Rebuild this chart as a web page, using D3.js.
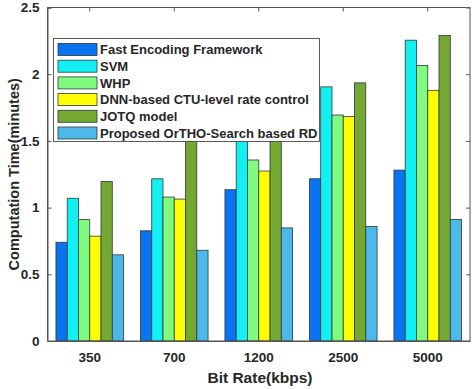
<!DOCTYPE html>
<html><head><meta charset="utf-8">
<script src="https://cdn.jsdelivr.net/npm/d3@7"></script>
<style>body{margin:0;background:#fff}svg{display:block}text{font-family:"Liberation Sans",Arial,sans-serif;font-weight:bold;fill:#262626}</style>
</head><body>
<script>
const categories = ["350","700","1200","2500","5000"];
const seriesNames = ["Fast Encoding Framework","SVM","WHP","DNN-based CTU-level rate control","JOTQ model","Proposed OrTHO-Search based RD"];
const fastEncoding = [0.74,0.826,1.134,1.216,1.281];
const svm = [1.07,1.216,1.60,1.905,2.255];
const whp = [0.91,1.079,1.357,1.694,2.065];
const dnn = [0.786,1.064,1.274,1.682,1.879];
const jotq = [1.196,1.53,1.62,1.935,2.29];
const proposed = [0.646,0.68,0.848,0.858,0.911];
const colors = ["#0a74f0","#13f0f3","#80fb80","#ffff00","#74a832","#4db9ea"];
const yTicks = [0,0.5,1,1.5,2,2.5];
const series = [fastEncoding,svm,whp,dnn,jotq,proposed];

const W=474,H=389, m={l:47.5,r:4,t:7.5,b:48};
const svg=d3.select("body").append("svg").attr("width",W).attr("height",H);
const x=d3.scaleBand().domain(categories).range([m.l,W-m.r]).paddingInner(0.2).paddingOuter(0.1);
const xs=d3.scaleBand().domain(d3.range(series.length)).range([0,x.bandwidth()]);
const y=d3.scaleLinear().domain([0,2.5]).range([H-m.b,m.t]);

const g=svg.append("g");
series.forEach((s,i)=>{
  g.selectAll(null).data(s).enter().append("rect")
   .attr("x",(d,j)=>x(categories[j])+xs(i))
   .attr("y",d=>y(d)).attr("width",xs.bandwidth()).attr("height",d=>y(0)-y(d))
   .attr("fill",colors[i]).attr("stroke","#2a3a3a").attr("stroke-width",0.8);
});
const axc="#555";
const xa=svg.append("g").attr("transform",`translate(0,${H-m.b})`).call(d3.axisBottom(x).tickSize(0).tickPadding(11));
const xt=svg.append("g").attr("transform",`translate(0,${m.t})`).call(d3.axisBottom(x).tickSize(4).tickFormat(""));
const ya=svg.append("g").attr("transform",`translate(${m.l},0)`).call(d3.axisLeft(y).tickValues(yTicks).tickSize(-4).tickPadding(8).tickFormat(d3.format("")));
const yr=svg.append("g").attr("transform",`translate(${W-m.r},0)`).call(d3.axisLeft(y).tickValues(yTicks).tickSize(4).tickFormat(""));
[xa,xt,ya,yr].forEach(a=>{a.selectAll("path,line").attr("stroke",axc);a.select(".domain").attr("stroke",axc);a.selectAll("text").style("font-size","13.5px").style("font-family","Liberation Sans, Arial").style("font-weight","bold").attr("fill","#262626");});
xt.select(".domain").remove(); yr.select(".domain").remove();
svg.append("rect").attr("x",m.l).attr("y",m.t).attr("width",W-m.r-m.l).attr("height",H-m.b-m.t).attr("fill","none").attr("stroke",axc);

svg.append("text").attr("x",260).attr("y",383).attr("text-anchor","middle").style("font-size","15.5px").text("Bit Rate(kbps)");
svg.append("text").attr("transform",`translate(19,${(m.t+H-m.b)/2}) rotate(-90)`).attr("text-anchor","middle").style("font-size","14.5px").text("Computation Time(minutes)");

const lg=svg.append("g");
lg.append("rect").attr("x",53.5).attr("y",38.5).attr("width",266).attr("height",103).attr("fill","#fff").attr("stroke","#333").attr("stroke-width",0.8);
seriesNames.forEach((n,i)=>{
  const cy=49.5+i*16.7;
  lg.append("rect").attr("x",58).attr("y",cy-6).attr("width",39).attr("height",12).attr("fill",colors[i]).attr("stroke","#2a3a3a").attr("stroke-width",0.8);
  lg.append("text").attr("x",100).attr("y",cy+4.7).style("font-size","13px").text(n);
});
</script>
</body></html>
